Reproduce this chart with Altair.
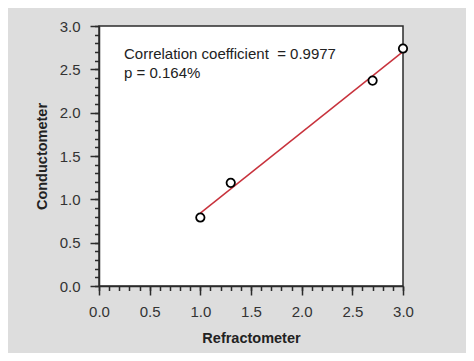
import altair as alt
import pandas as pd

# data
refractometer = [1.0, 1.3, 2.7, 3.0]
conductometer = [0.79, 1.19, 2.37, 2.74]
major_ticks = [0.0, 0.5, 1.0, 1.5, 2.0, 2.5, 3.0]
minor_ticks = [round(i * 0.1, 1) for i in range(31)]
annotation_text = "Correlation coefficient\u00a0 = 0.9977\np = 0.164%"

df = pd.DataFrame({"Refractometer": refractometer, "Conductometer": conductometer})

FONT = "Liberation Sans"
DARK = "#2b2b2b"
xs = alt.Scale(domain=[0, 3], nice=False, zero=False)
ys = alt.Scale(domain=[0, 3], nice=False, zero=False)

common = dict(grid=False, tickSize=9, tickWidth=1.5, tickColor=DARK, domainColor=DARK,
              domainWidth=1.5, labelFont=FONT, labelFontSize=15, labelColor="#333333",
              labelFlush=False, labelOverlap=False,
              titleFont=FONT, titleFontSize=14.5, titleFontWeight="bold", titleColor="#222222")
major_x = alt.Axis(values=major_ticks, format=".1f", orient="bottom", labelPadding=9,
                   titlePadding=12, **common)
major_y = alt.Axis(values=major_ticks, format=".1f", orient="left", labelPadding=10,
                   titlePadding=10, **common)
minor_x = alt.Axis(values=minor_ticks, orient="bottom", grid=False, labels=False, domain=False,
                   tickSize=4.5, tickWidth=1.5, tickColor=DARK, title=None)
minor_y = alt.Axis(values=minor_ticks, orient="left", grid=False, labels=False, domain=False,
                   tickSize=4.5, tickWidth=1.5, tickColor=DARK, title=None)

base = alt.Chart(df)

minor = base.mark_point(opacity=0).encode(
    x=alt.X("Refractometer:Q", scale=xs, axis=minor_x),
    y=alt.Y("Conductometer:Q", scale=ys, axis=minor_y),
)

line = base.transform_regression("Refractometer", "Conductometer").mark_line(
    color="#c8323c", strokeWidth=1.5
).encode(
    x=alt.X("Refractometer:Q", scale=xs, axis=major_x, title="Refractometer"),
    y=alt.Y("Conductometer:Q", scale=ys, axis=major_y, title="Conductometer"),
)

points = base.mark_point(shape="circle", filled=False, fill="white", fillOpacity=1,
                         stroke="black", strokeWidth=1.8, size=70, opacity=1).encode(
    x=alt.X("Refractometer:Q", scale=xs, axis=None),
    y=alt.Y("Conductometer:Q", scale=ys, axis=None),
)

note = alt.Chart(pd.DataFrame({"t": [annotation_text]})).mark_text(
    align="left", baseline="alphabetic", lineBreak="\n", lineHeight=19,
    font=FONT, fontSize=15, color="#222222"
).encode(text="t:N", x=alt.value(25), y=alt.value(32.5))

chart = alt.layer(line, minor, points, note).resolve_axis(
    x="independent", y="independent"
).properties(
    width=304, height=260,
    autosize=alt.AutoSizeParams(type="none"),
    padding={"left": 91, "top": 18, "right": 63, "bottom": 67},
    background="#dddddd",
).configure_view(
    stroke=DARK, strokeWidth=1.5, fill="white"
)

chart.save("out.html", embed_options={"renderer": "svg", "actions": False})
